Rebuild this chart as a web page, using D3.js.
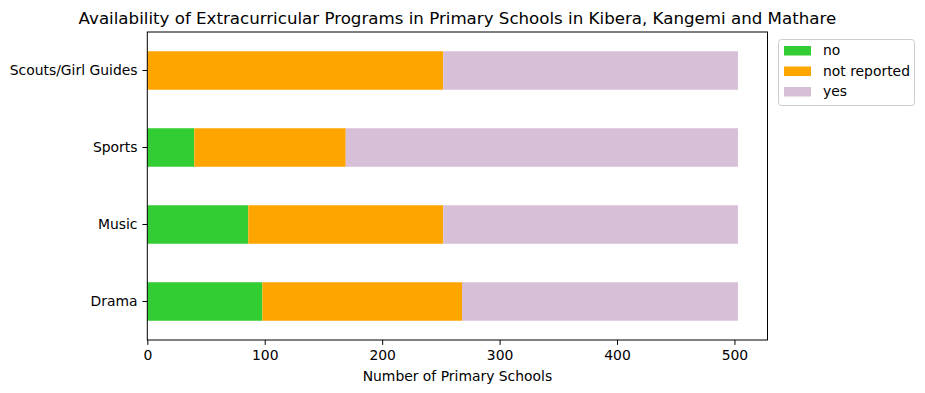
<!DOCTYPE html>
<html><head><meta charset="utf-8">
<script src="https://cdn.jsdelivr.net/npm/d3@7"></script>
<style>body{margin:0;background:#fff}svg{display:block}text{font-family:"DejaVu Sans",sans-serif;fill:#000}</style>
</head><body><svg id="c" width="925" height="393"></svg>
<script>
const categories = ["Drama", "Music", "Sports", "Scouts/Girl Guides"];
const seriesNames = ["no", "not reported", "yes"];
const noVals = [98, 86, 40, 0];
const notReportedVals = [170, 166, 129, 252];
const yesVals = [235, 251, 334, 251];
const xTicks = [0, 100, 200, 300, 400, 500];
const colors = ["#32CD32", "#FFA500", "#D8BFD8"];

const svg = d3.select("#c");
const m = {l: 147.3, r: 767.5, t: 32, b: 340};
const fs = "13.9px";
const totals = categories.map((c, i) => noVals[i] + notReportedVals[i] + yesVals[i]);
const x = d3.scaleLinear().domain([0, d3.max(totals) * 1.05]).range([m.l, m.r]);
const y = d3.scaleBand().domain(categories.slice().reverse()).range([m.t, m.b]).paddingInner(0.5).paddingOuter(0.25);

const rows = categories.map((c, i) => ({cat: c, no: noVals[i], "not reported": notReportedVals[i], yes: yesVals[i]}));
const stack = d3.stack().keys(seriesNames)(rows);

svg.append("g").selectAll("g").data(stack).join("g")
  .attr("fill", (d, i) => colors[i])
  .selectAll("rect").data(d => d).join("rect")
  .attr("x", d => x(d[0])).attr("width", d => x(d[1]) - x(d[0]))
  .attr("y", d => y(d.data.cat)).attr("height", y.bandwidth());

svg.append("rect").attr("x", m.l).attr("y", m.t).attr("width", m.r - m.l).attr("height", m.b - m.t)
  .attr("fill", "none").attr("stroke", "#000").attr("stroke-width", 1);

const xa = svg.append("g").attr("transform", `translate(0,${m.b})`)
  .call(d3.axisBottom(x).tickValues(xTicks).tickSize(4.9).tickPadding(4.9).tickFormat(d3.format("d")));
xa.select(".domain").remove();
xa.selectAll("text").attr("font-size", fs).attr("font-family", "DejaVu Sans");
xa.selectAll("line").attr("stroke", "#000");

const ya = svg.append("g").attr("transform", `translate(${m.l},0)`)
  .call(d3.axisLeft(y).tickSize(4.9).tickPadding(4.9));
ya.select(".domain").remove();
ya.selectAll("text").attr("font-size", fs).attr("font-family", "DejaVu Sans");
ya.selectAll("line").attr("stroke", "#000");

svg.append("text").attr("x", (m.l + m.r) / 2).attr("y", 381).attr("text-anchor", "middle")
  .attr("font-size", fs).text("Number of Primary Schools");
svg.append("text").attr("x", (m.l + m.r) / 2).attr("y", 24.3).attr("text-anchor", "middle")
  .attr("font-size", "16.67px").text("Availability of Extracurricular Programs in Primary Schools in Kibera, Kangemi and Mathare");

const lg = svg.append("g");
lg.append("rect").attr("x", 778.5).attr("y", 39.5).attr("width", 136).attr("height", 66).attr("rx", 3)
  .attr("fill", "#fff").attr("stroke", "#ccc");
seriesNames.forEach((s, i) => {
  const cy = 50.5 + i * 20.5;
  lg.append("rect").attr("x", 784).attr("y", cy - 4.5).attr("width", 27).attr("height", 9.5).attr("fill", colors[i]);
  lg.append("text").attr("x", 823).attr("y", cy + 4.5).attr("font-size", fs).text(s);
});
</script></body></html>
